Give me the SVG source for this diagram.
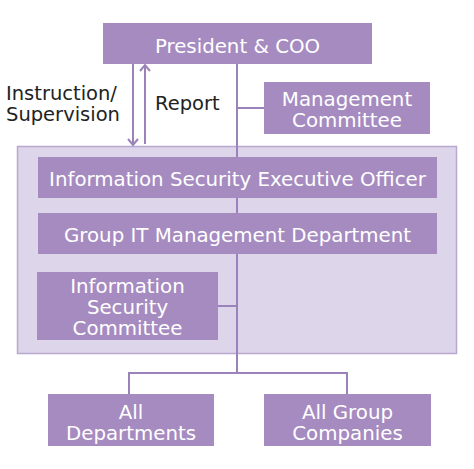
<svg xmlns="http://www.w3.org/2000/svg" width="474" height="469" viewBox="0 0 474 469">
<style>
.box{fill:#a68bc1}
.t{fill:#ffffff;font-family:"DejaVu Sans","Noto Sans",sans-serif;font-size:19.8px;text-anchor:middle}
.lbl{fill:#222222;font-family:"DejaVu Sans","Noto Sans",sans-serif;font-size:19.5px}
.ln{stroke:#9c82ba;stroke-width:2;fill:none}
</style>
<rect width="474" height="469" fill="#ffffff"/>
<g id="container"><rect x="17.5" y="146.5" width="439" height="207" fill="#ddd5ea" stroke="#b9a8d0" stroke-width="1.5"/></g>
<g id="connectors">
<path class="ln" d="M237 64V373M237 108H264M218 306H237M129 394V373H347V394"/>
<path class="ln" d="M133 64V145M128 139L133 145L138 139"/>
<path class="ln" d="M145 144V65M140 71L145 65L150 71"/>
</g>
<g id="president"><rect class="box" x="103" y="23" width="269" height="41"/><text class="t" x="237.5" y="53">President &amp; COO</text></g>
<g id="management"><rect class="box" x="264" y="82" width="166" height="52"/><text class="t" x="347" y="106">Management</text><text class="t" x="347" y="127">Committee</text></g>
<g id="labels"><text class="lbl" x="6" y="100">Instruction/</text><text class="lbl" x="6" y="121">Supervision</text><text class="lbl" x="155" y="110">Report</text></g>
<g id="iseo"><rect class="box" x="38" y="157" width="399" height="41"/><text class="t" x="237.5" y="186">Information Security Executive Officer</text></g>
<g id="groupit"><rect class="box" x="38" y="213" width="399" height="41"/><text class="t" x="237.5" y="242">Group IT Management Department</text></g>
<g id="isc"><rect class="box" x="37" y="272" width="181" height="68"/><text class="t" x="127.5" y="293">Information</text><text class="t" x="127.5" y="314">Security</text><text class="t" x="127.5" y="335">Committee</text></g>
<g id="alldept"><rect class="box" x="48" y="394" width="166" height="52"/><text class="t" x="131" y="419">All</text><text class="t" x="131" y="440">Departments</text></g>
<g id="allgroup"><rect class="box" x="264" y="394" width="167" height="52"/><text class="t" x="347.5" y="419">All Group</text><text class="t" x="347.5" y="440">Companies</text></g>
</svg>
